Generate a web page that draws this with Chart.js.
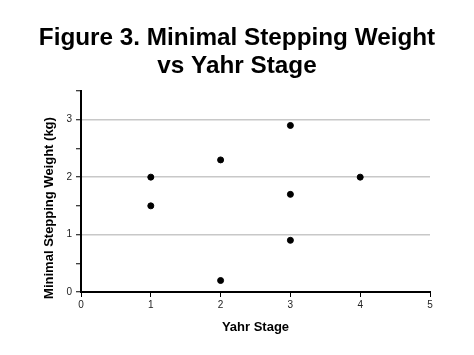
<!DOCTYPE html>
<html><head><meta charset="utf-8">
<script src="https://cdn.jsdelivr.net/npm/chart.js@4"></script>
<style>html,body{margin:0;padding:0;background:#fff}#wrap{width:474px;height:355px}</style>
</head><body><div id="wrap"><canvas id="c" width="474" height="355"></canvas></div>
<script>
const yahrStage = [1, 1, 2, 2, 3, 3, 3, 4];
const weightKg = [2.0, 1.5, 2.3, 0.2, 2.9, 1.7, 0.9, 2.0];
const titleLines = ['Figure 3. Minimal Stepping Weight', 'vs Yahr Stage'];
const xTitle = 'Yahr Stage';
const yTitle = 'Minimal Stepping Weight (kg)';

const FONT = 'Liberation Sans, Arial, Helvetica, sans-serif';
const points = yahrStage.map((x, i) => ({x: x, y: weightKg[i]}));

const yTitlePlugin = {
  id: 'yTitle',
  afterDraw(chart) {
    const ctx = chart.ctx;
    ctx.save();
    ctx.translate(49, 208);
    ctx.rotate(-Math.PI / 2);
    ctx.font = 'bold 13px ' + FONT;
    ctx.fillStyle = '#000';
    ctx.textAlign = 'center';
    ctx.textBaseline = 'middle';
    ctx.fillText(yTitle, 0, 0);
    ctx.restore();
  }
};

new Chart(document.getElementById('c'), {
  type: 'scatter',
  data: { datasets: [{ data: points, backgroundColor: '#000', borderColor: '#000', pointRadius: 3, pointHoverRadius: 3 }] },
  options: {
    responsive: false, animation: false,
    layout: { padding: 0 },
    plugins: {
      legend: { display: false }, tooltip: { enabled: false },
      title: { display: true, text: titleLines, color: '#000',
        font: { family: FONT, size: 24.3, weight: 'bold', lineHeight: 28/24.3 },
        padding: { top: 24, bottom: 11 } }
    },
    scales: {
      x: { type: 'linear', min: 0, max: 5,
        afterFit(s) { s.height = 63; },
        ticks: { stepSize: 1, color: '#222', font: { family: FONT, size: 10 }, padding: 2, maxRotation: 0 },
        grid: { drawOnChartArea: false, tickLength: 5, tickColor: '#000', tickWidth: 1 },
        border: { color: '#000', width: 2 },
        title: { display: true, text: xTitle, color: '#000', font: { family: FONT, size: 13, weight: 'bold' }, padding: { top: 0, bottom: 20 } }
      },
      y: { type: 'linear', min: 0, max: 3.5,
        afterFit(s) { s.width = 81; },
        ticks: { stepSize: 0.5, color: '#222', font: { family: FONT, size: 10 }, padding: 4,
          callback: (v) => (Number.isInteger(v) ? String(v) : '') },
        grid: { tickLength: 5, tickColor: '#000', tickWidth: 1,
          color: (c) => (c.tick && Number.isInteger(c.tick.value) && c.tick.value > 0 ? '#c8c8c8' : 'rgba(0,0,0,0)'),
          lineWidth: 1.5 },
        border: { color: '#000', width: 2 },
        title: { display: false }
      },
      yRight: { type: 'linear', position: 'right', min: 0, max: 3.5,
        afterFit(s) { s.width = 44; },
        ticks: { display: false },
        grid: { display: false, drawTicks: false },
        border: { display: false },
        title: { display: false }
      }
    }
  },
  plugins: [yTitlePlugin]
});
</script></body></html>
